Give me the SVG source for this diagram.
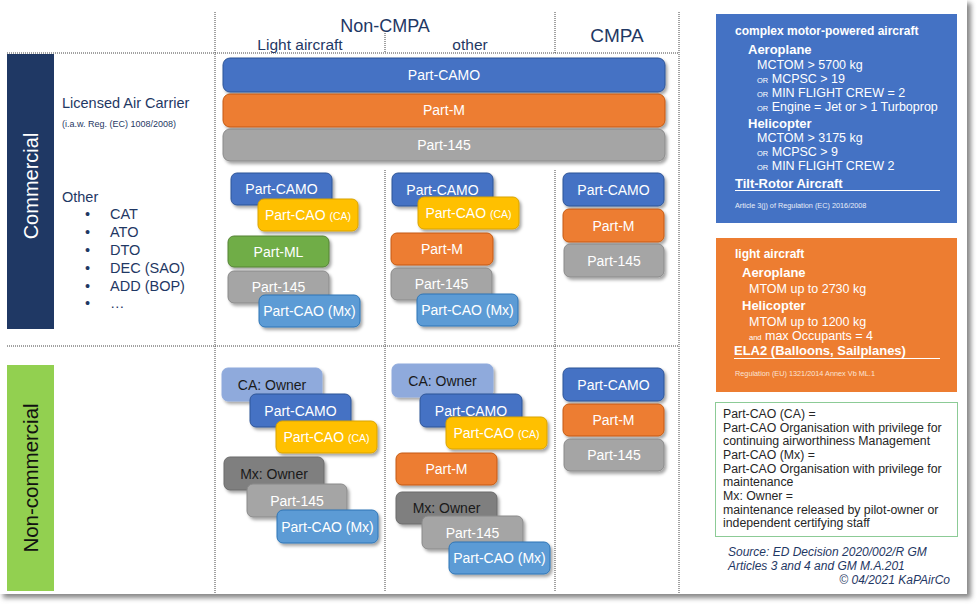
<svg xmlns="http://www.w3.org/2000/svg" width="980" height="613" viewBox="0 0 980 613">
<defs>
<filter id="sh" x="-10%" y="-20%" width="130%" height="170%">
<feDropShadow dx="2" dy="2.5" stdDeviation="1.5" flood-color="#000" flood-opacity="0.35"/>
</filter>
<filter id="cardsh" x="-5%" y="-5%" width="110%" height="110%">
<feGaussianBlur stdDeviation="2.5"/>
</filter>
</defs>
<style>
text{font-family:"Liberation Sans",Arial,Helvetica,sans-serif}
.node rect{stroke-width:1;filter:url(#sh)}
.bt{fill:#fff;font-size:14px;text-anchor:middle}
.dk{fill:#1a1a1a}
.blue rect{fill:#4472C4;stroke:#2F5597}
.orange rect{fill:#ED7D31;stroke:#C55A11}
.gray rect{fill:#A5A5A5;stroke:#8A8A8A}
.yellow rect{fill:#FFC000;stroke:#D9A300}
.green rect{fill:#70AD47;stroke:#548235}
.lblue rect{fill:#5B9BD5;stroke:#2E75B6}
.caown rect{fill:#8FAADC;stroke:#8FAADC}
.mxown rect{fill:#7F7F7F;stroke:#6A6A6A}
.grid line{stroke:#444;stroke-width:1;stroke-dasharray:1 1}
.hd{fill:#1F3864;text-anchor:middle}
.lab{fill:#1F3864;font-size:14.5px}
.wt{fill:#fff}
.ib{fill:#fff;font-size:12.5px}
.sm{font-size:7.5px}
.hb{fill:#fff;font-weight:bold;font-size:13px}
.tiny{fill:#E8EEF8;font-size:7.3px}
.leg{fill:#262626;font-size:12.3px}
.src{fill:#1F3864;font-size:12px;font-style:italic}
</style>

<!-- card -->
<rect x="0" y="0" width="980" height="613" fill="#fff"/>
<rect x="3" y="3" width="968" height="595" fill="#888" filter="url(#cardsh)"/>
<rect x="0" y="0" width="967" height="594" fill="#fff"/>

<!-- grid lines (no connectors in this diagram) -->
<g id="grid" class="grid">
<line x1="215" y1="12" x2="215" y2="593"/>
<line x1="679" y1="12" x2="679" y2="593"/>
<line x1="385" y1="33" x2="385" y2="53"/>
<line x1="555" y1="12" x2="555" y2="53"/>
<line x1="385" y1="170" x2="385" y2="591"/>
<line x1="555" y1="170" x2="555" y2="591"/>
<line x1="7" y1="53" x2="679" y2="53"/>
<line x1="7" y1="346" x2="679" y2="346"/>
</g>
<g id="connectors"></g>

<!-- header -->
<g id="header">
<text class="hd" x="385" y="32" font-size="18">Non-CMPA</text>
<text class="hd" x="300" y="50" font-size="15.5">Light aircraft</text>
<text class="hd" x="470" y="50" font-size="15.5">other</text>
<text class="hd" x="617" y="42" font-size="19">CMPA</text>
</g>

<!-- row labels -->
<g id="commercial">
<rect x="7" y="54" width="47" height="275" fill="#1F3864"/>
<text transform="translate(38,186) rotate(-90)" text-anchor="middle" fill="#fff" font-size="20">Commercial</text>
</g>
<g id="noncommercial">
<rect x="7" y="365" width="47" height="226" fill="#92D050"/>
<text transform="translate(38,478) rotate(-90)" text-anchor="middle" fill="#111" font-size="20.5">Non-commercial</text>
</g>
<g id="operators">
<text class="lab" x="62" y="108">Licensed Air Carrier</text>
<text fill="#1F3864" font-size="9" x="62" y="127">(i.a.w. Reg. (EC) 1008/2008)</text>
<text class="lab" x="62" y="202">Other</text>
<g class="lab">
<text class="lab" x="85" y="219">•</text><text class="lab" x="110" y="219">CAT</text>
<text class="lab" x="85" y="237">•</text><text class="lab" x="110" y="237">ATO</text>
<text class="lab" x="85" y="255">•</text><text class="lab" x="110" y="255">DTO</text>
<text class="lab" x="85" y="273">•</text><text class="lab" x="110" y="273">DEC (SAO)</text>
<text class="lab" x="85" y="291">•</text><text class="lab" x="110" y="291">ADD (BOP)</text>
<text class="lab" x="85" y="308">•</text><text class="lab" x="110" y="308">…</text>
</g>
</g>

<!-- wide bars -->
<g id="bar-camo" class="node blue"><rect x="223" y="58" width="442" height="34" rx="7"/><text class="bt" x="444" y="80">Part-CAMO</text></g>
<g id="bar-m" class="node orange"><rect x="223" y="94" width="442" height="33" rx="7"/><text class="bt" x="444" y="115">Part-M</text></g>
<g id="bar-145" class="node gray"><rect x="223" y="129" width="442" height="32" rx="7"/><text class="bt" x="444" y="150">Part-145</text></g>

<!-- commercial / light -->
<g id="cl-camo" class="node blue"><rect x="231" y="173" width="101" height="32" rx="6"/><text class="bt" x="281.5" y="194">Part-CAMO</text></g>
<g id="cl-caoca" class="node yellow"><rect x="258" y="199" width="100" height="32" rx="6"/><text class="bt" x="308" y="220">Part-CAO <tspan font-size="10.5">(CA)</tspan></text></g>
<g id="cl-ml" class="node green"><rect x="228" y="236" width="101" height="31" rx="6"/><text class="bt" x="278.5" y="257">Part-ML</text></g>
<g id="cl-145" class="node gray"><rect x="228" y="271" width="101" height="32" rx="6"/><text class="bt" x="278.5" y="292">Part-145</text></g>
<g id="cl-caomx" class="node lblue"><rect x="259" y="295" width="101" height="32" rx="6"/><text class="bt" x="309.5" y="316">Part-CAO (Mx)</text></g>

<!-- commercial / other -->
<g id="co-camo" class="node blue"><rect x="392" y="173" width="101" height="33" rx="6"/><text class="bt" x="442.5" y="195">Part-CAMO</text></g>
<g id="co-caoca" class="node yellow"><rect x="418" y="197" width="101" height="32" rx="6"/><text class="bt" x="468.5" y="218">Part-CAO <tspan font-size="10.5">(CA)</tspan></text></g>
<g id="co-m" class="node orange"><rect x="391" y="233" width="102" height="32" rx="6"/><text class="bt" x="442" y="254">Part-M</text></g>
<g id="co-145" class="node gray"><rect x="391" y="268" width="101" height="32" rx="6"/><text class="bt" x="441.5" y="289">Part-145</text></g>
<g id="co-caomx" class="node lblue"><rect x="417" y="294" width="101" height="32" rx="6"/><text class="bt" x="467.5" y="315">Part-CAO (Mx)</text></g>

<!-- commercial / CMPA -->
<g id="cc-camo" class="node blue"><rect x="563" y="173" width="101" height="33" rx="6"/><text class="bt" x="613.5" y="195">Part-CAMO</text></g>
<g id="cc-m" class="node orange"><rect x="563" y="209" width="101" height="33" rx="6"/><text class="bt" x="613.5" y="231">Part-M</text></g>
<g id="cc-145" class="node gray"><rect x="564" y="244" width="100" height="33" rx="6"/><text class="bt" x="614" y="266">Part-145</text></g>

<!-- non-commercial / light -->
<g id="nl-caown" class="node caown"><rect x="222" y="368" width="100" height="33" rx="6"/><text class="bt dk" x="272" y="390">CA: Owner</text></g>
<g id="nl-camo" class="node blue"><rect x="250" y="394" width="101" height="33" rx="6"/><text class="bt" x="300.5" y="416">Part-CAMO</text></g>
<g id="nl-caoca" class="node yellow"><rect x="276" y="421" width="101" height="32" rx="6"/><text class="bt" x="326.5" y="442">Part-CAO <tspan font-size="10.5">(CA)</tspan></text></g>
<g id="nl-mxown" class="node mxown"><rect x="224" y="457" width="100" height="33" rx="6"/><text class="bt dk" x="274" y="479">Mx: Owner</text></g>
<g id="nl-145" class="node gray"><rect x="247" y="484" width="100" height="33" rx="6"/><text class="bt" x="297" y="506">Part-145</text></g>
<g id="nl-caomx" class="node lblue"><rect x="277" y="510" width="101" height="33" rx="6"/><text class="bt" x="327.5" y="532">Part-CAO (Mx)</text></g>

<!-- non-commercial / other -->
<g id="no-caown" class="node caown"><rect x="392" y="364" width="101" height="33" rx="6"/><text class="bt dk" x="442.5" y="386">CA: Owner</text></g>
<g id="no-camo" class="node blue"><rect x="420" y="394" width="102" height="33" rx="6"/><text class="bt" x="471" y="416">Part-CAMO</text></g>
<g id="no-caoca" class="node yellow"><rect x="446" y="417" width="101" height="32" rx="6"/><text class="bt" x="496.5" y="438">Part-CAO <tspan font-size="10.5">(CA)</tspan></text></g>
<g id="no-m" class="node orange"><rect x="396" y="453" width="101" height="32" rx="6"/><text class="bt" x="446.5" y="474">Part-M</text></g>
<g id="no-mxown" class="node mxown"><rect x="396" y="492" width="101" height="32" rx="6"/><text class="bt dk" x="446.5" y="513">Mx: Owner</text></g>
<g id="no-145" class="node gray"><rect x="422" y="516" width="101" height="33" rx="6"/><text class="bt" x="472.5" y="538">Part-145</text></g>
<g id="no-caomx" class="node lblue"><rect x="449" y="542" width="101" height="32" rx="6"/><text class="bt" x="499.5" y="563">Part-CAO (Mx)</text></g>

<!-- non-commercial / CMPA -->
<g id="nc-camo" class="node blue"><rect x="563" y="368" width="101" height="33" rx="6"/><text class="bt" x="613.5" y="390">Part-CAMO</text></g>
<g id="nc-m" class="node orange"><rect x="563" y="404" width="101" height="32" rx="6"/><text class="bt" x="613.5" y="425">Part-M</text></g>
<g id="nc-145" class="node gray"><rect x="564" y="439" width="100" height="32" rx="6"/><text class="bt" x="614" y="460">Part-145</text></g>

<!-- right: CMPA definition -->
<g id="def-cmpa">
<rect x="716" y="14" width="241" height="209" fill="#4472C4"/>
<text class="wt" x="735" y="35" font-size="12" font-weight="bold">complex motor-powered aircraft</text>
<text class="hb" x="748" y="54">Aeroplane</text>
<text class="ib" x="757" y="69">MCTOM &gt; 5700 kg</text>
<text class="ib" x="757" y="83"><tspan class="sm">OR</tspan> MCPSC &gt; 19</text>
<text class="ib" x="757" y="97"><tspan class="sm">OR</tspan> MIN FLIGHT CREW = 2</text>
<text class="ib" x="757" y="111"><tspan class="sm">OR</tspan> Engine = Jet or &gt; 1 Turboprop</text>
<text class="hb" x="748" y="128">Helicopter</text>
<text class="ib" x="757" y="142">MCTOM &gt; 3175 kg</text>
<text class="ib" x="757" y="156"><tspan class="sm">OR</tspan> MCPSC &gt; 9</text>
<text class="ib" x="757" y="170"><tspan class="sm">OR</tspan> MIN FLIGHT CREW 2</text>
<text class="hb" x="735" y="188">Tilt-Rotor Aircraft</text>
<line x1="735" y1="190.5" x2="940" y2="190.5" stroke="#fff" stroke-width="1"/>
<text class="tiny" x="735" y="208">Article 3(j) of Regulation (EC) 2016/2008</text>
</g>

<!-- right: light aircraft definition -->
<g id="def-light">
<rect x="716" y="238" width="241" height="154" fill="#ED7D31"/>
<text class="wt" x="735" y="258" font-size="12" font-weight="bold">light aircraft</text>
<text class="hb" x="742" y="277">Aeroplane</text>
<text class="ib" x="749" y="293">MTOM up to 2730 kg</text>
<text class="hb" x="742" y="310">Helicopter</text>
<text class="ib" x="749" y="326">MTOM up to 1200 kg</text>
<text class="ib" x="749" y="340"><tspan class="sm">and</tspan> max Occupants = 4</text>
<text class="hb" x="734" y="355">ELA2 (Balloons, Sailplanes)</text>
<line x1="734" y1="358.5" x2="940" y2="358.5" stroke="#fff" stroke-width="1"/>
<text class="tiny" x="735" y="376" style="fill:#FBE3D3">Regulation (EU) 1321/2014 Annex Vb ML.1</text>
</g>

<!-- right: legend -->
<g id="legend">
<rect x="715.5" y="402.5" width="242" height="134" fill="#fff" stroke="#8CCB96" stroke-width="1"/>
<text class="leg" x="723" y="418">Part-CAO (CA) =</text>
<text class="leg" x="723" y="432">Part-CAO Organisation with privilege for</text>
<text class="leg" x="723" y="445">continuing airworthiness Management</text>
<text class="leg" x="723" y="459">Part-CAO (Mx) =</text>
<text class="leg" x="723" y="473">Part-CAO Organisation with privilege for</text>
<text class="leg" x="723" y="486">maintenance</text>
<text class="leg" x="723" y="500">Mx: Owner =</text>
<text class="leg" x="723" y="514">maintenance released by pilot-owner or</text>
<text class="leg" x="723" y="527">independent certifying staff</text>
</g>

<g id="source">
<text class="src" x="728" y="556">Source: ED Decision 2020/002/R GM</text>
<text class="src" x="728" y="570">Articles 3 and 4 and GM M.A.201</text>
<text class="src" x="950" y="584" text-anchor="end">© 04/2021 KaPAirCo</text>
</g>
</svg>
